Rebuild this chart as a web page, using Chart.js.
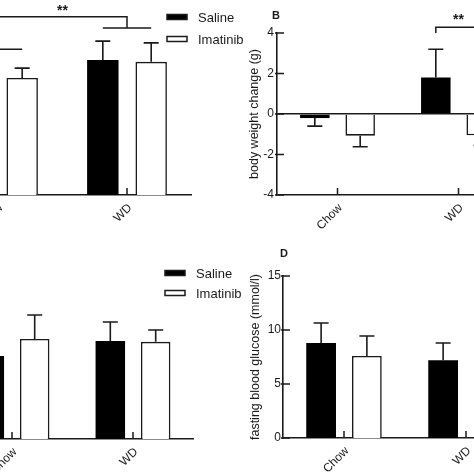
<!DOCTYPE html>
<html>
<head>
<meta charset="utf-8">
<script src="https://cdn.jsdelivr.net/npm/chart.js@4.4.1/dist/chart.umd.min.js"></script>
<style>
  html, body { margin: 0; padding: 0; background: #fff; }
  #fig { position: relative; width: 474px; height: 474px; overflow: hidden; background: #fff; }
  #fig canvas { position: absolute; }
</style>
</head>
<body>
<div id="fig"></div>
<script>
// groups and series
const categories = ['Chow', 'WD'];
const seriesNames = ['Saline', 'Imatinib'];

// panel A (y axis is cut off in the picture)
const weightTicks = [0, 10, 20, 30, 40];
const weightSaline = [26.5, 30.0];
const weightSalineSem = [2.5, 4.2];
const weightImatinib = [26.0, 29.6];
const weightImatinibSem = [2.2, 4.2];

// panel B
const changeTicks = [-4, -2, 0, 2, 4];
const changeSaline = [-0.2, 1.8];
const changeSalineSem = [0.4, 1.4];
const changeImatinib = [-1.07, -1.05];
const changeImatinibSem = [0.55, 0.5];

// panel C (y axis is cut off too)
const intakeTicks = [0, 10, 20, 30, 40];
const intakeSaline = [20.5, 24.2];
const intakeSalineSem = [3.0, 4.7];
const intakeImatinib = [24.7, 24.0];
const intakeImatinibSem = [5.9, 2.9];

// panel D
const glucoseTicks = [0, 5, 10, 15];
const glucoseSaline = [8.8, 7.2];
const glucoseSalineSem = [1.85, 1.6];
const glucoseImatinib = [7.6, 7.5];
const glucoseImatinibSem = [1.85, 1.5];

Chart.defaults.font.family = '"Liberation Sans", Arial, sans-serif';
Chart.defaults.color = '#1a1a1a';

const INK = '#1a1a1a';

// mean +/- SEM whiskers
const errorBars = {
    id: 'errorBars',
    afterDatasetsDraw(chart) {
        const ctx = chart.ctx;
        const y = chart.scales.y;
        chart.data.datasets.forEach((ds, i) => {
            chart.getDatasetMeta(i).data.forEach((bar, j) => {
                const v = ds.data[j];
                const e = ds.sem[j];
                const end = y.getPixelForValue(v < 0 ? v - e : v + e);
                ctx.save();
                ctx.strokeStyle = INK;
                ctx.lineWidth = 1.6;
                ctx.beginPath();
                ctx.moveTo(bar.x, bar.y);
                ctx.lineTo(bar.x, end);
                ctx.moveTo(bar.x - 7.5, end);
                ctx.lineTo(bar.x + 7.5, end);
                ctx.stroke();
                ctx.restore();
            });
        });
    }
};

// tick marks pointing into the plot, like the original
const innerTicks = {
    id: 'innerTicks',
    afterDraw(chart) {
        const ctx = chart.ctx;
        const { x, y } = chart.scales;
        ctx.save();
        ctx.strokeStyle = INK;
        ctx.lineWidth = 1.5;
        ctx.beginPath();
        x.ticks.forEach((t, i) => {
            const px = x.getPixelForTick(i);
            ctx.moveTo(px, x.top);
            ctx.lineTo(px, x.top - 7);
        });
        y.ticks.forEach((t, i) => {
            const py = y.getPixelForTick(i);
            ctx.moveTo(y.right - 2, py);
            ctx.lineTo(y.right + 7, py);
        });
        ctx.stroke();
        ctx.restore();
    }
};

// panel letter, legend and significance brackets
const extras = {
    id: 'extras',
    afterDraw(chart, args, opts) {
        const ctx = chart.ctx;
        const area = chart.chartArea;
        const x = chart.scales.x;
        const y = chart.scales.y;
        const m0 = chart.getDatasetMeta(0).data;
        const m1 = chart.getDatasetMeta(1).data;
        ctx.save();
        ctx.strokeStyle = INK;
        ctx.fillStyle = INK;
        ctx.lineWidth = 1.5;

        if (opts.letter) {
            ctx.font = 'bold 11px "Liberation Sans", Arial, sans-serif';
            ctx.textAlign = 'left';
            ctx.textBaseline = 'alphabetic';
            ctx.fillText(opts.letter, area.left + opts.letterAt[0], area.top + opts.letterAt[1]);
        }

        if (opts.legend) {
            const lx = area.right + opts.legend[0];
            let ly = area.top + opts.legend[1];
            ctx.font = '13px "Liberation Sans", Arial, sans-serif';
            ctx.textBaseline = 'middle';
            chart.data.datasets.forEach(ds => {
                ctx.fillStyle = ds.backgroundColor;
                ctx.fillRect(lx, ly - 2.5, 20, 5);
                ctx.strokeRect(lx, ly - 2.5, 20, 5);
                ctx.fillStyle = INK;
                ctx.fillText(ds.label, lx + 31, ly + 1);
                ly += opts.legend[2];
            });
        }

        const stars = (sx, sy) => {
            ctx.font = 'bold 14px "Liberation Sans", Arial, sans-serif';
            ctx.textAlign = 'center';
            ctx.textBaseline = 'alphabetic';
            ctx.fillText('**', sx, sy);
        };

        // A: Chow vs WD (pooled groups)
        if (opts.groupBracket) {
            const [lowChow, lowWD, top] = opts.groupBracket.map(v => y.getPixelForValue(v));
            const cx0 = x.getPixelForValue(0);
            const cx1 = x.getPixelForValue(1);
            ctx.beginPath();
            ctx.moveTo(m0[0].x, lowChow); ctx.lineTo(m1[0].x, lowChow);
            ctx.moveTo(m0[1].x, lowWD); ctx.lineTo(m1[1].x, lowWD);
            ctx.moveTo(cx0, lowChow); ctx.lineTo(cx0, top); ctx.lineTo(cx1, top); ctx.lineTo(cx1, lowWD);
            ctx.stroke();
            stars((cx0 + cx1) / 2, top - 2);
        }

        // B: Saline vs Imatinib within WD
        if (opts.pairBracket) {
            const [low, top] = opts.pairBracket.map(v => y.getPixelForValue(v));
            const a = m0[1].x, b = m1[1].x;
            ctx.beginPath();
            ctx.moveTo(a, low); ctx.lineTo(a, top); ctx.lineTo(b, top); ctx.lineTo(b, low);
            ctx.stroke();
            stars((a + b) / 2, top - 3);
        }
        ctx.restore();
    }
};

const fig = document.getElementById('fig');

function makePanel(p) {
    const w = p.box[2] - p.box[0];
    const h = p.box[3] - p.box[1];
    const cv = document.createElement('canvas');
    cv.width = w;
    cv.height = h;
    cv.style.left = p.box[0] + 'px';
    cv.style.top = p.box[1] + 'px';
    cv.style.width = w + 'px';
    cv.style.height = h + 'px';
    fig.appendChild(cv);

    return new Chart(cv, {
        type: 'bar',
        data: {
            labels: categories,
            datasets: [
                {
                    label: seriesNames[0], data: p.saline, sem: p.salineSem,
                    backgroundColor: '#000', borderColor: INK, borderWidth: 0,
                    categoryPercentage: 0.75, barPercentage: 0.65
                },
                {
                    label: seriesNames[1], data: p.imatinib, sem: p.imatinibSem,
                    backgroundColor: '#fff', borderColor: INK, borderWidth: 1.6,
                    categoryPercentage: 0.75, barPercentage: 0.65
                }
            ]
        },
        options: {
            responsive: false,
            animation: false,
            devicePixelRatio: 1,
            layout: {
                padding: {
                    left: p.area[0] - p.box[0] - p.yw,
                    top: p.area[1] - p.box[1],
                    right: p.box[2] - p.area[2],
                    bottom: p.box[3] - p.area[3] - p.xh
                }
            },
            plugins: {
                legend: { display: false },
                tooltip: { enabled: false },
                extras: p.extras
            },
            scales: {
                x: {
                    grid: { display: false },
                    border: { display: true, color: INK, width: 1.6 },
                    ticks: {
                        font: { size: 12 }, color: INK, minRotation: 45, maxRotation: 45,
                        autoSkip: false, padding: -2, labelOffset: 3
                    },
                    afterFit(s) { s.height = p.xh; s.paddingLeft = 0; s.paddingRight = 0; }
                },
                y: {
                    min: p.ticks[0],
                    max: p.ticks[p.ticks.length - 1],
                    afterBuildTicks(s) { s.ticks = p.ticks.map(v => ({ value: v })); },
                    grid: {
                        display: p.zeroLine,
                        drawTicks: false,
                        color: c => (c.tick && c.tick.value === 0 ? INK : 'rgba(0,0,0,0)'),
                        lineWidth: 1.6
                    },
                    border: { display: true, color: INK, width: 1.6 },
                    ticks: { font: { size: 12 }, color: INK, padding: p.tickPad },
                    title: {
                        display: !!p.title,
                        text: p.title,
                        font: { size: 12.5 },
                        color: INK,
                        padding: { top: p.titlePad, bottom: 0 }
                    },
                    afterFit(s) { s.width = p.yw; s.paddingTop = 0; s.paddingBottom = 0; }
                }
            }
        },
        plugins: [errorBars, innerTicks, extras]
    });
}

// A
makePanel({
    box: [-124, 0, 262, 237], area: [-66.5, 15, 191.5, 195], yw: 40, xh: 40,
    ticks: weightTicks, zeroLine: false, tickPad: 4, title: '', titlePad: 0,
    saline: weightSaline, salineSem: weightSalineSem,
    imatinib: weightImatinib, imatinibSem: weightImatinibSem,
    extras: { legend: [-24.5, 2, 22], groupBracket: [32.4, 37.1, 39.6] }
});

// C
makePanel({
    box: [-110, 237, 262, 474], area: [-48.5, 277, 193.5, 439], yw: 40, xh: 33,
    ticks: intakeTicks, zeroLine: false, tickPad: 4, title: '', titlePad: 0,
    saline: intakeSaline, salineSem: intakeSalineSem,
    imatinib: intakeImatinib, imatinibSem: intakeImatinibSem,
    extras: { legend: [-28.5, -4, 20] }
});

// B
makePanel({
    box: [237, 0, 540, 237], area: [277, 33, 519, 195], yw: 36, xh: 40,
    ticks: changeTicks, zeroLine: true, tickPad: 3,
    title: 'body weight change (g)', titlePad: 6.5,
    saline: changeSaline, salineSem: changeSalineSem,
    imatinib: changeImatinib, imatinibSem: changeImatinibSem,
    extras: { letter: 'B', letterAt: [-5, -14.5], pairBracket: [4.0, 4.29] }
});

// D
makePanel({
    box: [237, 237, 540, 474], area: [283, 276, 527, 438], yw: 36, xh: 34,
    ticks: glucoseTicks, zeroLine: false, tickPad: 2,
    title: 'fasting blood glucose (mmol/l)', titlePad: 1.5,
    saline: glucoseSaline, salineSem: glucoseSalineSem,
    imatinib: glucoseImatinib, imatinibSem: glucoseImatinibSem,
    extras: { letter: 'D', letterAt: [-3, -19.5] }
});
</script>
</body>
</html>
